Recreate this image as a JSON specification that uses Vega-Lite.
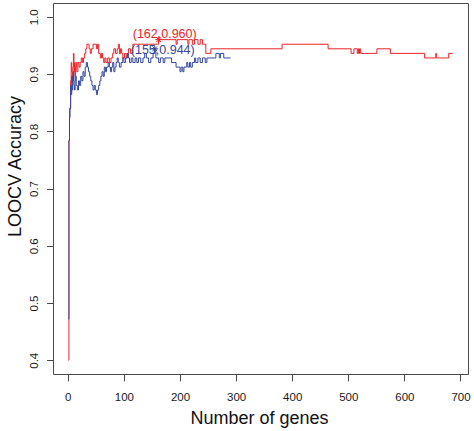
{
  "$schema": "https://vega.github.io/schema/vega-lite/v6.json",
  "width": 415,
  "height": 371,
  "autosize": {"type": "none"},
  "padding": {"left": 53, "top": 3, "right": 6, "bottom": 57},
  "background": "white",
  "config": {
    "view": {"stroke": "#4a4a4a", "strokeWidth": 1},
    "font": "Liberation Sans",
    "axis": {
      "grid": false,
      "domain": false,
      "tickColor": "#4a4a4a",
      "tickWidth": 1,
      "labelFont": "Liberation Sans",
      "labelFontSize": 11.5,
      "labelColor": "#1a1a1a",
      "titleFont": "Liberation Sans",
      "titleFontSize": 18,
      "titleFontWeight": "normal",
      "titleColor": "#111111"
    }
  },
  "datasets": {
    "acc": [
      {"n": 1, "acc": 0.400, "series": "red"},
      {"n": 2, "acc": 0.784, "series": "red"},
      {"n": 3, "acc": 0.840, "series": "red"},
      {"n": 5, "acc": 0.888, "series": "red"},
      {"n": 6, "acc": 0.920, "series": "red"},
      {"n": 7, "acc": 0.904, "series": "red"},
      {"n": 8, "acc": 0.888, "series": "red"},
      {"n": 9, "acc": 0.912, "series": "red"},
      {"n": 10, "acc": 0.936, "series": "red"},
      {"n": 11, "acc": 0.904, "series": "red"},
      {"n": 12, "acc": 0.920, "series": "red"},
      {"n": 13, "acc": 0.896, "series": "red"},
      {"n": 14, "acc": 0.912, "series": "red"},
      {"n": 15, "acc": 0.920, "series": "red"},
      {"n": 16, "acc": 0.904, "series": "red"},
      {"n": 18, "acc": 0.920, "series": "red"},
      {"n": 20, "acc": 0.912, "series": "red"},
      {"n": 22, "acc": 0.920, "series": "red"},
      {"n": 24, "acc": 0.928, "series": "red"},
      {"n": 26, "acc": 0.920, "series": "red"},
      {"n": 28, "acc": 0.928, "series": "red"},
      {"n": 30, "acc": 0.936, "series": "red"},
      {"n": 32, "acc": 0.944, "series": "red"},
      {"n": 34, "acc": 0.952, "series": "red"},
      {"n": 38, "acc": 0.944, "series": "red"},
      {"n": 40, "acc": 0.936, "series": "red"},
      {"n": 42, "acc": 0.944, "series": "red"},
      {"n": 45, "acc": 0.952, "series": "red"},
      {"n": 51, "acc": 0.944, "series": "red"},
      {"n": 53, "acc": 0.952, "series": "red"},
      {"n": 55, "acc": 0.936, "series": "red"},
      {"n": 58, "acc": 0.928, "series": "red"},
      {"n": 60, "acc": 0.936, "series": "red"},
      {"n": 62, "acc": 0.928, "series": "red"},
      {"n": 64, "acc": 0.920, "series": "red"},
      {"n": 66, "acc": 0.928, "series": "red"},
      {"n": 68, "acc": 0.920, "series": "red"},
      {"n": 71, "acc": 0.928, "series": "red"},
      {"n": 74, "acc": 0.920, "series": "red"},
      {"n": 77, "acc": 0.928, "series": "red"},
      {"n": 80, "acc": 0.936, "series": "red"},
      {"n": 82, "acc": 0.944, "series": "red"},
      {"n": 85, "acc": 0.936, "series": "red"},
      {"n": 88, "acc": 0.944, "series": "red"},
      {"n": 90, "acc": 0.952, "series": "red"},
      {"n": 92, "acc": 0.936, "series": "red"},
      {"n": 94, "acc": 0.944, "series": "red"},
      {"n": 96, "acc": 0.936, "series": "red"},
      {"n": 98, "acc": 0.928, "series": "red"},
      {"n": 101, "acc": 0.936, "series": "red"},
      {"n": 104, "acc": 0.928, "series": "red"},
      {"n": 106, "acc": 0.936, "series": "red"},
      {"n": 108, "acc": 0.944, "series": "red"},
      {"n": 112, "acc": 0.936, "series": "red"},
      {"n": 116, "acc": 0.952, "series": "red"},
      {"n": 162, "acc": 0.960, "series": "red"},
      {"n": 193, "acc": 0.952, "series": "red"},
      {"n": 195, "acc": 0.960, "series": "red"},
      {"n": 214, "acc": 0.952, "series": "red"},
      {"n": 216, "acc": 0.960, "series": "red"},
      {"n": 222, "acc": 0.952, "series": "red"},
      {"n": 226, "acc": 0.960, "series": "red"},
      {"n": 232, "acc": 0.952, "series": "red"},
      {"n": 236, "acc": 0.960, "series": "red"},
      {"n": 240, "acc": 0.952, "series": "red"},
      {"n": 246, "acc": 0.936, "series": "red"},
      {"n": 255, "acc": 0.944, "series": "red"},
      {"n": 382, "acc": 0.952, "series": "red"},
      {"n": 464, "acc": 0.944, "series": "red"},
      {"n": 505, "acc": 0.936, "series": "red"},
      {"n": 510, "acc": 0.944, "series": "red"},
      {"n": 516, "acc": 0.936, "series": "red"},
      {"n": 518, "acc": 0.944, "series": "red"},
      {"n": 519, "acc": 0.936, "series": "red"},
      {"n": 520, "acc": 0.944, "series": "red"},
      {"n": 522, "acc": 0.936, "series": "red"},
      {"n": 551, "acc": 0.944, "series": "red"},
      {"n": 575, "acc": 0.936, "series": "red"},
      {"n": 636, "acc": 0.928, "series": "red"},
      {"n": 656, "acc": 0.936, "series": "red"},
      {"n": 657, "acc": 0.928, "series": "red"},
      {"n": 679, "acc": 0.936, "series": "red"},
      {"n": 686, "acc": 0.936, "series": "red"},
      {"n": 1, "acc": 0.472, "series": "blue"},
      {"n": 2, "acc": 0.784, "series": "blue"},
      {"n": 3, "acc": 0.824, "series": "blue"},
      {"n": 4, "acc": 0.840, "series": "blue"},
      {"n": 5, "acc": 0.880, "series": "blue"},
      {"n": 6, "acc": 0.864, "series": "blue"},
      {"n": 7, "acc": 0.896, "series": "blue"},
      {"n": 8, "acc": 0.872, "series": "blue"},
      {"n": 9, "acc": 0.888, "series": "blue"},
      {"n": 10, "acc": 0.904, "series": "blue"},
      {"n": 11, "acc": 0.880, "series": "blue"},
      {"n": 12, "acc": 0.872, "series": "blue"},
      {"n": 13, "acc": 0.888, "series": "blue"},
      {"n": 14, "acc": 0.896, "series": "blue"},
      {"n": 15, "acc": 0.880, "series": "blue"},
      {"n": 17, "acc": 0.872, "series": "blue"},
      {"n": 19, "acc": 0.888, "series": "blue"},
      {"n": 21, "acc": 0.880, "series": "blue"},
      {"n": 23, "acc": 0.896, "series": "blue"},
      {"n": 25, "acc": 0.888, "series": "blue"},
      {"n": 27, "acc": 0.904, "series": "blue"},
      {"n": 29, "acc": 0.896, "series": "blue"},
      {"n": 31, "acc": 0.912, "series": "blue"},
      {"n": 33, "acc": 0.920, "series": "blue"},
      {"n": 35, "acc": 0.912, "series": "blue"},
      {"n": 37, "acc": 0.904, "series": "blue"},
      {"n": 39, "acc": 0.896, "series": "blue"},
      {"n": 41, "acc": 0.888, "series": "blue"},
      {"n": 43, "acc": 0.880, "series": "blue"},
      {"n": 45, "acc": 0.872, "series": "blue"},
      {"n": 47, "acc": 0.880, "series": "blue"},
      {"n": 49, "acc": 0.872, "series": "blue"},
      {"n": 51, "acc": 0.864, "series": "blue"},
      {"n": 53, "acc": 0.872, "series": "blue"},
      {"n": 55, "acc": 0.880, "series": "blue"},
      {"n": 57, "acc": 0.888, "series": "blue"},
      {"n": 59, "acc": 0.896, "series": "blue"},
      {"n": 61, "acc": 0.904, "series": "blue"},
      {"n": 63, "acc": 0.896, "series": "blue"},
      {"n": 65, "acc": 0.912, "series": "blue"},
      {"n": 67, "acc": 0.904, "series": "blue"},
      {"n": 69, "acc": 0.912, "series": "blue"},
      {"n": 72, "acc": 0.920, "series": "blue"},
      {"n": 74, "acc": 0.912, "series": "blue"},
      {"n": 76, "acc": 0.904, "series": "blue"},
      {"n": 78, "acc": 0.912, "series": "blue"},
      {"n": 80, "acc": 0.920, "series": "blue"},
      {"n": 82, "acc": 0.904, "series": "blue"},
      {"n": 84, "acc": 0.912, "series": "blue"},
      {"n": 86, "acc": 0.920, "series": "blue"},
      {"n": 88, "acc": 0.928, "series": "blue"},
      {"n": 90, "acc": 0.920, "series": "blue"},
      {"n": 92, "acc": 0.912, "series": "blue"},
      {"n": 95, "acc": 0.920, "series": "blue"},
      {"n": 98, "acc": 0.928, "series": "blue"},
      {"n": 100, "acc": 0.920, "series": "blue"},
      {"n": 103, "acc": 0.928, "series": "blue"},
      {"n": 106, "acc": 0.936, "series": "blue"},
      {"n": 108, "acc": 0.928, "series": "blue"},
      {"n": 110, "acc": 0.920, "series": "blue"},
      {"n": 113, "acc": 0.928, "series": "blue"},
      {"n": 116, "acc": 0.920, "series": "blue"},
      {"n": 120, "acc": 0.928, "series": "blue"},
      {"n": 123, "acc": 0.920, "series": "blue"},
      {"n": 126, "acc": 0.928, "series": "blue"},
      {"n": 130, "acc": 0.920, "series": "blue"},
      {"n": 134, "acc": 0.928, "series": "blue"},
      {"n": 137, "acc": 0.936, "series": "blue"},
      {"n": 140, "acc": 0.928, "series": "blue"},
      {"n": 144, "acc": 0.920, "series": "blue"},
      {"n": 148, "acc": 0.928, "series": "blue"},
      {"n": 152, "acc": 0.936, "series": "blue"},
      {"n": 155, "acc": 0.944, "series": "blue"},
      {"n": 157, "acc": 0.928, "series": "blue"},
      {"n": 162, "acc": 0.920, "series": "blue"},
      {"n": 165, "acc": 0.928, "series": "blue"},
      {"n": 170, "acc": 0.920, "series": "blue"},
      {"n": 173, "acc": 0.928, "series": "blue"},
      {"n": 185, "acc": 0.920, "series": "blue"},
      {"n": 193, "acc": 0.912, "series": "blue"},
      {"n": 200, "acc": 0.904, "series": "blue"},
      {"n": 202, "acc": 0.912, "series": "blue"},
      {"n": 205, "acc": 0.904, "series": "blue"},
      {"n": 207, "acc": 0.912, "series": "blue"},
      {"n": 212, "acc": 0.920, "series": "blue"},
      {"n": 214, "acc": 0.912, "series": "blue"},
      {"n": 217, "acc": 0.920, "series": "blue"},
      {"n": 219, "acc": 0.912, "series": "blue"},
      {"n": 222, "acc": 0.920, "series": "blue"},
      {"n": 226, "acc": 0.928, "series": "blue"},
      {"n": 228, "acc": 0.920, "series": "blue"},
      {"n": 232, "acc": 0.928, "series": "blue"},
      {"n": 236, "acc": 0.920, "series": "blue"},
      {"n": 240, "acc": 0.928, "series": "blue"},
      {"n": 245, "acc": 0.920, "series": "blue"},
      {"n": 248, "acc": 0.928, "series": "blue"},
      {"n": 264, "acc": 0.936, "series": "blue"},
      {"n": 270, "acc": 0.928, "series": "blue"},
      {"n": 272, "acc": 0.936, "series": "blue"},
      {"n": 278, "acc": 0.928, "series": "blue"},
      {"n": 290, "acc": 0.928, "series": "blue"}
    ],
    "peaks": [
      {"n": 162, "acc": 0.960, "series": "red", "label": "(162,0.960)"},
      {"n": 155, "acc": 0.944, "series": "blue", "label": "(155,0.944)"}
    ]
  },
  "encoding": {
    "x": {
      "field": "n",
      "type": "quantitative",
      "scale": {"domain": [-26.4, 713.4], "nice": false, "zero": false},
      "axis": {
        "title": "Number of genes",
        "values": [0, 100, 200, 300, 400, 500, 600, 700],
        "tickSize": 7,
        "labelPadding": 19,
        "labelBaseline": "alphabetic",
        "labelColor": "#1a1a1a",
        "titleX": 206,
        "titleY": 49,
        "titleBaseline": "alphabetic"
      }
    },
    "y": {
      "field": "acc",
      "type": "quantitative",
      "scale": {"domain": [0.376, 1.024], "nice": false, "zero": false},
      "axis": {
        "title": "LOOCV Accuracy",
        "values": [0.4, 0.5, 0.6, 0.7, 0.8, 0.9, 1.0],
        "format": ".1f",
        "tickSize": 6.5,
        "labelAngle": 270,
        "labelAlign": "center",
        "labelBaseline": "alphabetic",
        "labelPadding": 9,
        "labelColor": "#1a1a1a",
        "titleX": -33,
        "titleY": 163,
        "titleAlign": "center",
        "titleBaseline": "alphabetic"
      }
    },
    "color": {
      "field": "series",
      "type": "nominal",
      "scale": {"domain": ["red", "blue"], "range": ["#ec2328", "#33479d"]},
      "legend": null
    }
  },
  "layer": [
    {
      "data": {"name": "acc"},
      "mark": {"type": "line", "interpolate": "step-after", "strokeWidth": 1}
    },
    {
      "data": {"name": "peaks"},
      "mark": {
        "type": "point",
        "shape": "M-1,0L1,0M0,-1L0,1M-0.7,-0.7L0.7,0.7M-0.7,0.7L0.7,-0.7",
        "filled": false,
        "size": 45,
        "strokeWidth": 1,
        "opacity": 1
      }
    },
    {
      "data": {"name": "peaks"},
      "transform": [{"filter": "datum.series === 'red'"}],
      "mark": {"type": "text", "fontSize": 12.5, "font": "Liberation Sans", "dx": 6, "dy": -6},
      "encoding": {"text": {"field": "label"}}
    },
    {
      "data": {"name": "peaks"},
      "transform": [{"filter": "datum.series === 'blue'"}],
      "mark": {"type": "text", "fontSize": 12.5, "font": "Liberation Sans", "dx": 8, "dy": 1},
      "encoding": {"text": {"field": "label"}}
    }
  ]
}
